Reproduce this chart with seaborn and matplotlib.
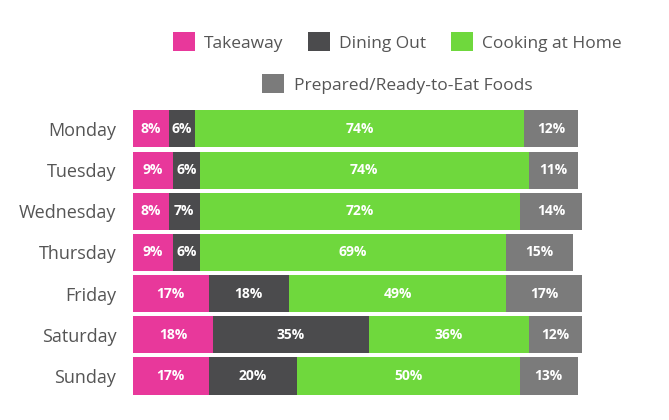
import matplotlib
matplotlib.use("Agg")
from matplotlib import pyplot as plt
from matplotlib.patches import Patch
import seaborn as sns
import numpy as np
import pandas as pd

days = ["Monday", "Tuesday", "Wednesday", "Thursday", "Friday", "Saturday", "Sunday"]
takeaway = [8, 9, 8, 9, 17, 18, 17]
dining_out = [6, 6, 7, 6, 18, 35, 20]
cooking_home = [74, 74, 72, 69, 49, 36, 50]
prepared = [12, 11, 14, 15, 17, 12, 13]
series_names = ["Takeaway", "Dining Out", "Cooking at Home", "Prepared/Ready-to-Eat Foods"]
colors = ["#E8389B", "#4B4B4D", "#6FD83D", "#7B7B7B"]

sns.set_style("white")
plt.rcParams['font.family'] = ['Open Sans', 'DejaVu Sans']

df = pd.DataFrame({"Day": days, "Takeaway": takeaway, "Dining Out": dining_out,
                   "Cooking at Home": cooking_home, "Prepared/Ready-to-Eat Foods": prepared})
cum = df[series_names].cumsum(axis=1)

fig = plt.figure(figsize=(6.69, 4.2), dpi=100)
ax = fig.add_axes([133 / 669, 0.0557, 449 / 669, 0.6863])

# stacked bars: draw the longest cumulative first, then overlay
for name, color in reversed(list(zip(series_names, colors))):
    sns.barplot(x=cum[name], y=df["Day"], order=days, color=color, width=0.9,
                orient="h", ax=ax, saturation=1, linewidth=0)

# value labels in the middle of each segment
for i, day in enumerate(days):
    for name in series_names:
        v = df.loc[i, name]
        center = cum.loc[i, name] - v / 2
        ax.text(center, i, f"{v}%", ha="center", va="center", color="white",
                fontsize=10, fontweight="bold")

ax.set_xlim(0, 101)
ax.set_ylim(6.5, -0.5)
ax.set_xlabel("")
ax.set_ylabel("")
ax.set_xticks([])
ax.tick_params(axis="y", length=0, pad=12, labelsize=13, labelcolor="#555555")
sns.despine(ax=ax, left=True, bottom=True)

handles = [Patch(facecolor=c, edgecolor="none") for c in colors]
leg_kw = dict(frameon=False, fontsize=12.5, handlelength=1.25, handleheight=1.25,
              handletextpad=0.55, columnspacing=1.4, labelcolor="#555555")
fig.legend(handles[:3], series_names[:3], loc="center", bbox_to_anchor=(0.594, 0.9),
           ncol=3, **leg_kw)
fig.legend(handles[3:], series_names[3:], loc="center", bbox_to_anchor=(0.594, 0.8),
           ncol=1, **leg_kw)

fig.savefig("out.png", dpi=100)
